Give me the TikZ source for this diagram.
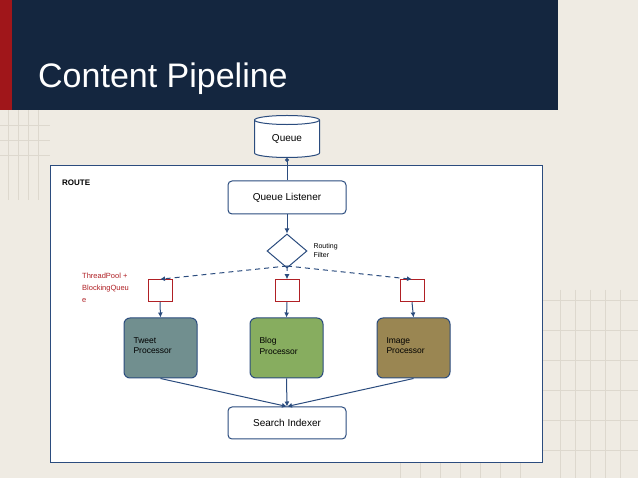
\documentclass[tikz,border=0pt]{standalone}
\usepackage{fontspec}
\setmainfont{Liberation Sans}
\usetikzlibrary{shapes.geometric,arrows.meta}
\definecolor{bg}{HTML}{EFEBE3}
\definecolor{navy}{HTML}{14263F}
\definecolor{redbar}{HTML}{A0161A}
\definecolor{ln}{HTML}{2B4C7E}
\definecolor{rd}{HTML}{B02025}
\definecolor{tw}{HTML}{718F8F}
\definecolor{bl}{HTML}{87AD5F}
\definecolor{im}{HTML}{9A8652}
\definecolor{grid}{HTML}{DDD8CE}
\tikzset{
 box/.style={draw=ln,line width=1pt,rounded corners=4pt,fill=white,font=\fontsize{10}{12}\selectfont},
 proc/.style={draw=ln,line width=1pt,rounded corners=6pt,minimum width=73pt,minimum height=60pt,inner sep=0pt},
 ptext/.style={font=\fontsize{8.5}{10.5}\selectfont,align=left,anchor=north west},
 rcyl/.style={cylinder,shape border rotate=90,aspect=0.25,draw=rd,line width=1pt,fill=white,minimum width=24pt,minimum height=22pt,inner sep=0pt},
 arr/.style={draw=ln,line width=1pt,-{Latex[length=5pt,width=5pt]}},
 darr/.style={arr,dashed,dash pattern=on 5pt off 4pt}
}
\begin{document}
\begin{tikzpicture}[x=1pt,y=-1pt]
\useasboundingbox (0,0) rectangle (638,478);
\fill[bg] (0,0) rectangle (638,478);
\foreach \x in {8,18,28,38} \draw[grid] (\x,110) -- (\x,200);
\foreach \y in {125,140,155} \draw[grid] (0,\y) -- (50,\y);
\foreach \x in {560,575,590,605,620} \draw[grid] (\x,290) -- (\x,478);
\foreach \y in {300,330,360,390,420,450} \draw[grid] (542,\y) -- (638,\y);
\foreach \x in {400,420,440,460,480,500,520} \draw[grid] (\x,462) -- (\x,478);
\fill[navy] (0,0) rectangle (558,110);
\fill[redbar] (0,0) rectangle (12,110);
\node[anchor=base west,text=white,font=\fontsize{34}{40}\selectfont,inner sep=0pt] (title) at (38,88) {Content Pipeline};
\node[draw=ln,line width=0.8pt,fill=white,minimum width=492pt,minimum height=297pt,inner sep=0pt] (route) at (296,313.5) {};
\node[anchor=west,font=\bfseries\fontsize{8}{10}\selectfont,inner sep=0pt] (rl) at (62,183) {ROUTE};
\node[cylinder,shape border rotate=90,aspect=0.3,draw=ln,line width=1pt,fill=white,minimum width=65pt,minimum height=42pt,inner sep=0pt,font=\fontsize{10}{12}\selectfont] (queue) at (287,139) {\raisebox{-6pt}{Queue}};
\node[box,minimum width=118pt,minimum height=33pt] (ql) at (287,197.5) {Queue Listener};
\node[diamond,draw=ln,line width=1pt,fill=white,minimum width=40pt,minimum height=34pt,inner sep=0pt] (rf) at (287,251) {};
\node[font=\fontsize{7}{9}\selectfont,align=left,anchor=west] (rft) at (310,251) {Routing\\Filter};
\node[rcyl] (c1) at (160,291) {};
\node[rcyl] (c2) at (287,291) {};
\node[rcyl] (c3) at (412,291) {};
\node[text=rd,font=\fontsize{7.5}{12}\selectfont,align=left,anchor=north west,inner sep=0pt] (tp) at (82,273) {ThreadPool +\\BlockingQueu\\e};
\node[proc,fill=tw] (p1) at (160.5,348) {};
\node[proc,fill=bl] (p2) at (286.5,348) {};
\node[proc,fill=im] (p3) at (413.5,348) {};
\node[ptext] (t1) at (130,334) {Tweet\\Processor};
\node[ptext] (t2) at (256,334) {Blog\\Processor};
\node[ptext] (t3) at (383,334) {Image\\Processor};
\node[box,minimum width=118pt,minimum height=32pt] (si) at (287,423) {Search Indexer};
\coordinate (rfb) at (287,266);
\draw[ln,line width=1pt,{Circle[length=4pt]}-] (queue.south) -- (ql.north);
\draw[arr] (ql.south) -- (rf.north);
\draw[darr] (rfb) -- (c1.north);
\draw[darr] (rfb) -- (c2.north);
\draw[darr] (rfb) -- (c3.north);
\draw[arr] (c1.south) -- (p1.north);
\draw[arr] (c2.south) -- (p2.north);
\draw[arr] (c3.south) -- (p3.north);
\draw[arr] (p1.south) -- (si.north);
\draw[arr] (p2.south) -- (si.north);
\draw[arr] (p3.south) -- (si.north);
\end{tikzpicture}
\end{document}
